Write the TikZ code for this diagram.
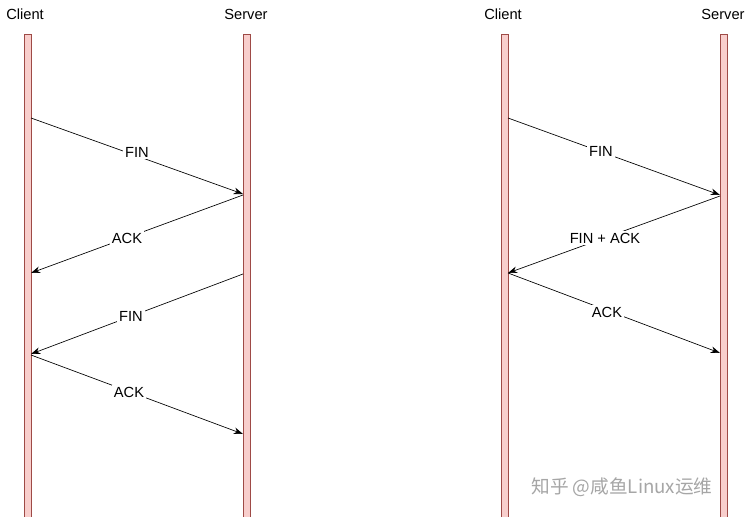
\documentclass[tikz,border=0pt]{standalone}
\usepackage{fontspec}
\setmainfont{Liberation Sans}
\newfontfamily\cjk{Noto Sans CJK SC}
\usetikzlibrary{arrows.meta}
\definecolor{barfill}{HTML}{F8CECC}
\definecolor{barline}{HTML}{9E4A46}
\begin{document}
\begin{tikzpicture}[x=0.75pt,y=-0.75pt,
  bar/.style={draw=barline,fill=barfill,line width=0.75pt},
  msg/.style={-{Stealth[length=7pt,width=5pt]},line width=0.5pt},
  lbl/.style={fill=white,inner sep=1.5pt,font=\fontsize{11}{13}\selectfont},
  hdr/.style={font=\fontsize{11}{13}\selectfont}]
\useasboundingbox (0,0) rectangle (753,517);
\fill[white] (0,0) rectangle (753,517);
\draw[bar] (24,35) rectangle (31,517);
\draw[bar] (243,35) rectangle (250,517);
\draw[bar] (501,35) rectangle (508,517);
\draw[bar] (720,35) rectangle (727,517);
\node[hdr] (c1) at (25,14) {Client};
\node[hdr] (s1) at (246,14) {Server};
\node[hdr] (c2) at (503,14) {Client};
\node[hdr] (s2) at (723,14) {Server};
% left
\coordinate (a1) at (31,118); \coordinate (b1) at (243,194);
\coordinate (a2) at (243,195); \coordinate (b2) at (31,273);
\coordinate (a3) at (243,274); \coordinate (b3) at (31,354);
\coordinate (a4) at (31,355); \coordinate (b4) at (243,434);
\draw[msg] (a1) -- (b1);
\draw[msg] (a2) -- (b2);
\draw[msg] (a3) -- (b3);
\draw[msg] (a4) -- (b4);
\node[lbl] (l1) at (137,152) {FIN};
\node[lbl] (l2) at (127,238) {ACK};
\node[lbl] (l3) at (131,316) {FIN};
\node[lbl] (l4) at (129,392) {ACK};
% right
\coordinate (d1) at (508,118); \coordinate (e1) at (720,195);
\coordinate (d2) at (720,196); \coordinate (e2) at (508,273);
\coordinate (d3) at (508,273); \coordinate (e3) at (720,353);
\draw[msg] (d1) -- (e1);
\draw[msg] (d2) -- (e2);
\draw[msg] (d3) -- (e3);
\node[lbl] (r1) at (601,151) {FIN};
\node[lbl] (r2) at (605,238) {FIN + ACK};
\node[lbl] (r3) at (607,312) {ACK};
\node[font=\cjk\fontsize{14}{16}\selectfont,text=gray!70] (wm) at (622,487) {知乎 @咸鱼Linux运维};
\end{tikzpicture}
\end{document}
